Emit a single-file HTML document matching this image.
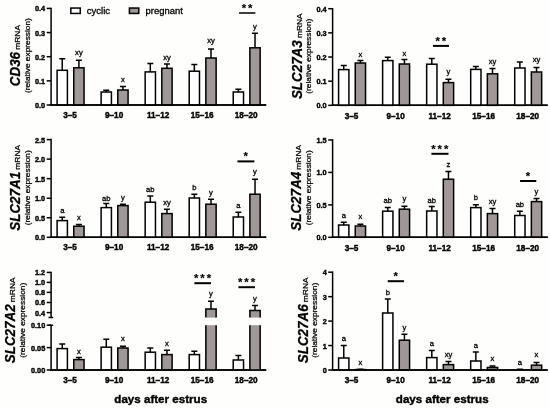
<!DOCTYPE html>
<html lang="en"><head><meta charset="utf-8"><title>Figure</title>
<style>html,body{margin:0;padding:0;background:#fefefd}svg{display:block;filter:blur(0.3px)}</style></head>
<body>
<svg width="550" height="408" viewBox="0 0 550 408" font-family='"Liberation Sans", sans-serif' fill="#000">
<rect width="550" height="408" fill="#fefefd"/>
<path d="M51.10 7.65V105.00" stroke="#000" stroke-width="1.5" fill="none"/>
<path d="M50.35 105.00H266.20" stroke="#000" stroke-width="1.5" fill="none"/>
<path d="M46.70 8.40H51.10" stroke="#000" stroke-width="1.5" fill="none"/>
<text x="45.20" y="11.35" font-size="7.3" font-weight="bold" font-style="normal" text-anchor="end" stroke="#000" stroke-width="0.4" >0.4</text>
<path d="M46.70 32.55H51.10" stroke="#000" stroke-width="1.5" fill="none"/>
<text x="45.20" y="35.50" font-size="7.3" font-weight="bold" font-style="normal" text-anchor="end" stroke="#000" stroke-width="0.4" >0.3</text>
<path d="M46.70 56.70H51.10" stroke="#000" stroke-width="1.5" fill="none"/>
<text x="45.20" y="59.65" font-size="7.3" font-weight="bold" font-style="normal" text-anchor="end" stroke="#000" stroke-width="0.4" >0.2</text>
<path d="M46.70 80.85H51.10" stroke="#000" stroke-width="1.5" fill="none"/>
<text x="45.20" y="83.80" font-size="7.3" font-weight="bold" font-style="normal" text-anchor="end" stroke="#000" stroke-width="0.4" >0.1</text>
<path d="M46.70 105.00H51.10" stroke="#000" stroke-width="1.5" fill="none"/>
<text x="45.20" y="107.95" font-size="7.3" font-weight="bold" font-style="normal" text-anchor="end" stroke="#000" stroke-width="0.4" >0.0</text>
<path d="M62.25 70.30V58.80M59.25 58.80H65.25" fill="none" stroke="#000" stroke-width="1.5"/>
<rect x="57.10" y="70.30" width="10.30" height="34.70" fill="#fff" stroke="#000" stroke-width="1.5"/>
<path d="M78.90 67.80V60.30M75.90 60.30H81.90" fill="none" stroke="#000" stroke-width="1.5"/>
<rect x="73.75" y="67.80" width="10.30" height="37.20" fill="#a09797" stroke="#000" stroke-width="1.5"/>
<text x="78.90" y="54.60" font-size="7.6" font-weight="normal" font-style="normal" text-anchor="middle" stroke="#000" stroke-width="0.3" >xy</text>
<text x="70.08" y="117.90" font-size="8.2" font-weight="bold" font-style="normal" text-anchor="middle" stroke="#000" stroke-width="0.4" >3–5</text>
<path d="M106.28 92.00V90.20M103.28 90.20H109.28" fill="none" stroke="#000" stroke-width="1.5"/>
<rect x="101.13" y="92.00" width="10.30" height="13.00" fill="#fff" stroke="#000" stroke-width="1.5"/>
<path d="M122.93 90.00V86.40M119.93 86.40H125.93" fill="none" stroke="#000" stroke-width="1.5"/>
<rect x="117.78" y="90.00" width="10.30" height="15.00" fill="#a09797" stroke="#000" stroke-width="1.5"/>
<text x="122.93" y="81.80" font-size="7.6" font-weight="normal" font-style="normal" text-anchor="middle" stroke="#000" stroke-width="0.3" >x</text>
<text x="114.11" y="117.90" font-size="8.2" font-weight="bold" font-style="normal" text-anchor="middle" stroke="#000" stroke-width="0.4" >9–10</text>
<path d="M150.31 71.90V63.60M147.31 63.60H153.31" fill="none" stroke="#000" stroke-width="1.5"/>
<rect x="145.16" y="71.90" width="10.30" height="33.10" fill="#fff" stroke="#000" stroke-width="1.5"/>
<path d="M166.96 68.30V64.10M163.96 64.10H169.96" fill="none" stroke="#000" stroke-width="1.5"/>
<rect x="161.81" y="68.30" width="10.30" height="36.70" fill="#a09797" stroke="#000" stroke-width="1.5"/>
<text x="166.96" y="59.50" font-size="7.6" font-weight="normal" font-style="normal" text-anchor="middle" stroke="#000" stroke-width="0.3" >xy</text>
<text x="158.14" y="117.90" font-size="8.2" font-weight="bold" font-style="normal" text-anchor="middle" stroke="#000" stroke-width="0.4" >11–12</text>
<path d="M194.34 71.20V64.60M191.34 64.60H197.34" fill="none" stroke="#000" stroke-width="1.5"/>
<rect x="189.19" y="71.20" width="10.30" height="33.80" fill="#fff" stroke="#000" stroke-width="1.5"/>
<path d="M210.99 58.00V49.00M207.99 49.00H213.99" fill="none" stroke="#000" stroke-width="1.5"/>
<rect x="205.84" y="58.00" width="10.30" height="47.00" fill="#a09797" stroke="#000" stroke-width="1.5"/>
<text x="210.99" y="43.40" font-size="7.6" font-weight="normal" font-style="normal" text-anchor="middle" stroke="#000" stroke-width="0.3" >xy</text>
<text x="202.16" y="117.90" font-size="8.2" font-weight="bold" font-style="normal" text-anchor="middle" stroke="#000" stroke-width="0.4" >15–16</text>
<path d="M238.37 92.00V89.20M235.37 89.20H241.37" fill="none" stroke="#000" stroke-width="1.5"/>
<rect x="233.22" y="92.00" width="10.30" height="13.00" fill="#fff" stroke="#000" stroke-width="1.5"/>
<path d="M255.02 47.80V33.20M252.02 33.20H258.02" fill="none" stroke="#000" stroke-width="1.5"/>
<rect x="249.87" y="47.80" width="10.30" height="57.20" fill="#a09797" stroke="#000" stroke-width="1.5"/>
<text x="255.02" y="28.60" font-size="7.6" font-weight="normal" font-style="normal" text-anchor="middle" stroke="#000" stroke-width="0.3" >y</text>
<text x="246.20" y="117.90" font-size="8.2" font-weight="bold" font-style="normal" text-anchor="middle" stroke="#000" stroke-width="0.4" >18–20</text>
<path d="M50.35 105.00H266.20" stroke="#000" stroke-width="1.5" fill="none"/>
<path d="M239.00 13.00H255.40" stroke="#000" stroke-width="1.5" fill="none"/>
<text x="248.00" y="11.90" font-size="11.3" font-weight="bold" font-style="normal" text-anchor="middle" stroke="#000" stroke-width="0.15" letter-spacing="1.9">**</text>
<text transform="translate(20.00 86.20) rotate(-90) scale(0.9 1)" text-anchor="start" font-size="14.9" font-weight="bold" font-style="italic" stroke="#000" stroke-width="0.3">CD36</text>
<text transform="translate(20.00 49.73) rotate(-90) scale(1.12 1)" text-anchor="start" font-size="7.5" stroke="#000" stroke-width="0.25">mRNA</text>
<text transform="translate(30.00 55.60) rotate(-90) scale(1.07 1)" text-anchor="middle" font-size="7.8" stroke="#000" stroke-width="0.25">(relative expression)</text>
<rect x="70.85" y="8.05" width="9.4" height="5.4" fill="#fff" stroke="#000" stroke-width="1.5"/>
<text x="86.70" y="14.20" font-size="9.6" font-weight="normal" font-style="normal" text-anchor="start" stroke="#000" stroke-width="0.3" >cyclic</text>
<rect x="129.4" y="8.05" width="9.4" height="5.4" fill="#a09797" stroke="#000" stroke-width="1.5"/>
<text x="145.50" y="14.20" font-size="9.45" font-weight="normal" font-style="normal" text-anchor="start" stroke="#000" stroke-width="0.3" >pregnant</text>
<path d="M51.10 138.85V237.30" stroke="#000" stroke-width="1.5" fill="none"/>
<path d="M50.35 237.30H266.20" stroke="#000" stroke-width="1.5" fill="none"/>
<path d="M46.70 139.60H51.10" stroke="#000" stroke-width="1.5" fill="none"/>
<text x="45.20" y="142.55" font-size="7.3" font-weight="bold" font-style="normal" text-anchor="end" stroke="#000" stroke-width="0.4" >2.5</text>
<path d="M46.70 159.14H51.10" stroke="#000" stroke-width="1.5" fill="none"/>
<text x="45.20" y="162.09" font-size="7.3" font-weight="bold" font-style="normal" text-anchor="end" stroke="#000" stroke-width="0.4" >2.0</text>
<path d="M46.70 178.68H51.10" stroke="#000" stroke-width="1.5" fill="none"/>
<text x="45.20" y="181.63" font-size="7.3" font-weight="bold" font-style="normal" text-anchor="end" stroke="#000" stroke-width="0.4" >1.5</text>
<path d="M46.70 198.22H51.10" stroke="#000" stroke-width="1.5" fill="none"/>
<text x="45.20" y="201.17" font-size="7.3" font-weight="bold" font-style="normal" text-anchor="end" stroke="#000" stroke-width="0.4" >1.0</text>
<path d="M46.70 217.76H51.10" stroke="#000" stroke-width="1.5" fill="none"/>
<text x="45.20" y="220.71" font-size="7.3" font-weight="bold" font-style="normal" text-anchor="end" stroke="#000" stroke-width="0.4" >0.5</text>
<path d="M46.70 237.30H51.10" stroke="#000" stroke-width="1.5" fill="none"/>
<text x="45.20" y="240.25" font-size="7.3" font-weight="bold" font-style="normal" text-anchor="end" stroke="#000" stroke-width="0.4" >0.0</text>
<path d="M62.25 220.60V217.20M59.25 217.20H65.25" fill="none" stroke="#000" stroke-width="1.5"/>
<rect x="57.10" y="220.60" width="10.30" height="16.70" fill="#fff" stroke="#000" stroke-width="1.5"/>
<path d="M78.90 226.20V224.60M75.90 224.60H81.90" fill="none" stroke="#000" stroke-width="1.5"/>
<rect x="73.75" y="226.20" width="10.30" height="11.10" fill="#a09797" stroke="#000" stroke-width="1.5"/>
<text x="62.25" y="213.30" font-size="7.6" font-weight="normal" font-style="normal" text-anchor="middle" stroke="#000" stroke-width="0.3" >a</text>
<text x="78.90" y="220.30" font-size="7.6" font-weight="normal" font-style="normal" text-anchor="middle" stroke="#000" stroke-width="0.3" >x</text>
<text x="70.08" y="250.20" font-size="8.2" font-weight="bold" font-style="normal" text-anchor="middle" stroke="#000" stroke-width="0.4" >3–5</text>
<path d="M106.28 207.60V203.60M103.28 203.60H109.28" fill="none" stroke="#000" stroke-width="1.5"/>
<rect x="101.13" y="207.60" width="10.30" height="29.70" fill="#fff" stroke="#000" stroke-width="1.5"/>
<path d="M122.93 205.60V204.20M119.93 204.20H125.93" fill="none" stroke="#000" stroke-width="1.5"/>
<rect x="117.78" y="205.60" width="10.30" height="31.70" fill="#a09797" stroke="#000" stroke-width="1.5"/>
<text x="106.28" y="200.60" font-size="7.6" font-weight="normal" font-style="normal" text-anchor="middle" stroke="#000" stroke-width="0.3" >ab</text>
<text x="122.93" y="200.30" font-size="7.6" font-weight="normal" font-style="normal" text-anchor="middle" stroke="#000" stroke-width="0.3" >y</text>
<text x="114.11" y="250.20" font-size="8.2" font-weight="bold" font-style="normal" text-anchor="middle" stroke="#000" stroke-width="0.4" >9–10</text>
<path d="M150.31 202.20V196.00M147.31 196.00H153.31" fill="none" stroke="#000" stroke-width="1.5"/>
<rect x="145.16" y="202.20" width="10.30" height="35.10" fill="#fff" stroke="#000" stroke-width="1.5"/>
<path d="M166.96 213.60V209.20M163.96 209.20H169.96" fill="none" stroke="#000" stroke-width="1.5"/>
<rect x="161.81" y="213.60" width="10.30" height="23.70" fill="#a09797" stroke="#000" stroke-width="1.5"/>
<text x="150.31" y="192.10" font-size="7.6" font-weight="normal" font-style="normal" text-anchor="middle" stroke="#000" stroke-width="0.3" >ab</text>
<text x="166.96" y="204.80" font-size="7.6" font-weight="normal" font-style="normal" text-anchor="middle" stroke="#000" stroke-width="0.3" >xy</text>
<text x="158.14" y="250.20" font-size="8.2" font-weight="bold" font-style="normal" text-anchor="middle" stroke="#000" stroke-width="0.4" >11–12</text>
<path d="M194.34 198.00V194.20M191.34 194.20H197.34" fill="none" stroke="#000" stroke-width="1.5"/>
<rect x="189.19" y="198.00" width="10.30" height="39.30" fill="#fff" stroke="#000" stroke-width="1.5"/>
<path d="M210.99 204.20V199.20M207.99 199.20H213.99" fill="none" stroke="#000" stroke-width="1.5"/>
<rect x="205.84" y="204.20" width="10.30" height="33.10" fill="#a09797" stroke="#000" stroke-width="1.5"/>
<text x="194.34" y="189.80" font-size="7.6" font-weight="normal" font-style="normal" text-anchor="middle" stroke="#000" stroke-width="0.3" >b</text>
<text x="210.99" y="194.90" font-size="7.6" font-weight="normal" font-style="normal" text-anchor="middle" stroke="#000" stroke-width="0.3" >y</text>
<text x="202.16" y="250.20" font-size="8.2" font-weight="bold" font-style="normal" text-anchor="middle" stroke="#000" stroke-width="0.4" >15–16</text>
<path d="M238.37 217.00V212.20M235.37 212.20H241.37" fill="none" stroke="#000" stroke-width="1.5"/>
<rect x="233.22" y="217.00" width="10.30" height="20.30" fill="#fff" stroke="#000" stroke-width="1.5"/>
<path d="M255.02 194.20V179.20M252.02 179.20H258.02" fill="none" stroke="#000" stroke-width="1.5"/>
<rect x="249.87" y="194.20" width="10.30" height="43.10" fill="#a09797" stroke="#000" stroke-width="1.5"/>
<text x="238.37" y="208.30" font-size="7.6" font-weight="normal" font-style="normal" text-anchor="middle" stroke="#000" stroke-width="0.3" >a</text>
<text x="255.02" y="174.30" font-size="7.6" font-weight="normal" font-style="normal" text-anchor="middle" stroke="#000" stroke-width="0.3" >y</text>
<text x="246.20" y="250.20" font-size="8.2" font-weight="bold" font-style="normal" text-anchor="middle" stroke="#000" stroke-width="0.4" >18–20</text>
<path d="M50.35 237.30H266.20" stroke="#000" stroke-width="1.5" fill="none"/>
<path d="M237.40 161.40H254.40" stroke="#000" stroke-width="2.0" fill="none"/>
<text x="246.70" y="159.95" font-size="11.3" font-weight="bold" font-style="normal" text-anchor="middle" stroke="#000" stroke-width="0.15" letter-spacing="1.9">*</text>
<text transform="translate(20.00 230.70) rotate(-90) scale(0.9 1)" text-anchor="start" font-size="14.9" font-weight="bold" font-style="italic" stroke="#000" stroke-width="0.3">SLC27A1</text>
<text transform="translate(20.00 169.63) rotate(-90) scale(1.12 1)" text-anchor="start" font-size="7.5" stroke="#000" stroke-width="0.25">mRNA</text>
<text transform="translate(30.00 187.80) rotate(-90) scale(1.07 1)" text-anchor="middle" font-size="7.8" stroke="#000" stroke-width="0.25">(relative expression)</text>
<path d="M51.10 271.65V317.60M48.50 317.60H53.20M51.10 325.20V370.00M48.50 325.20H53.20" stroke="#000" stroke-width="1.5" fill="none"/>
<path d="M50.35 370.00H266.20" stroke="#000" stroke-width="1.5" fill="none"/>
<path d="M46.70 272.40H51.10" stroke="#000" stroke-width="1.5" fill="none"/>
<text x="45.20" y="275.35" font-size="7.3" font-weight="bold" font-style="normal" text-anchor="end" stroke="#000" stroke-width="0.4" >1.2</text>
<path d="M46.70 282.40H51.10" stroke="#000" stroke-width="1.5" fill="none"/>
<text x="45.20" y="285.35" font-size="7.3" font-weight="bold" font-style="normal" text-anchor="end" stroke="#000" stroke-width="0.4" >1.0</text>
<path d="M46.70 292.40H51.10" stroke="#000" stroke-width="1.5" fill="none"/>
<text x="45.20" y="295.35" font-size="7.3" font-weight="bold" font-style="normal" text-anchor="end" stroke="#000" stroke-width="0.4" >0.8</text>
<path d="M46.70 302.50H51.10" stroke="#000" stroke-width="1.5" fill="none"/>
<text x="45.20" y="305.45" font-size="7.3" font-weight="bold" font-style="normal" text-anchor="end" stroke="#000" stroke-width="0.4" >0.6</text>
<path d="M46.70 312.60H51.10" stroke="#000" stroke-width="1.5" fill="none"/>
<text x="45.20" y="315.55" font-size="7.3" font-weight="bold" font-style="normal" text-anchor="end" stroke="#000" stroke-width="0.4" >0.4</text>
<path d="M46.70 325.20H51.10" stroke="#000" stroke-width="1.5" fill="none"/>
<text x="45.20" y="328.15" font-size="7.3" font-weight="bold" font-style="normal" text-anchor="end" stroke="#000" stroke-width="0.4" >0.10</text>
<path d="M46.70 347.60H51.10" stroke="#000" stroke-width="1.5" fill="none"/>
<text x="45.20" y="350.55" font-size="7.3" font-weight="bold" font-style="normal" text-anchor="end" stroke="#000" stroke-width="0.4" >0.05</text>
<path d="M46.70 370.00H51.10" stroke="#000" stroke-width="1.5" fill="none"/>
<text x="45.20" y="372.95" font-size="7.3" font-weight="bold" font-style="normal" text-anchor="end" stroke="#000" stroke-width="0.4" >0.00</text>
<path d="M62.25 348.60V344.00M59.25 344.00H65.25" fill="none" stroke="#000" stroke-width="1.5"/>
<rect x="57.10" y="348.60" width="10.30" height="21.40" fill="#fff" stroke="#000" stroke-width="1.5"/>
<path d="M78.90 359.60V357.60M75.90 357.60H81.90" fill="none" stroke="#000" stroke-width="1.5"/>
<rect x="73.75" y="359.60" width="10.30" height="10.40" fill="#a09797" stroke="#000" stroke-width="1.5"/>
<text x="78.90" y="353.70" font-size="7.6" font-weight="normal" font-style="normal" text-anchor="middle" stroke="#000" stroke-width="0.3" >x</text>
<text x="70.08" y="383.20" font-size="8.2" font-weight="bold" font-style="normal" text-anchor="middle" stroke="#000" stroke-width="0.4" >3–5</text>
<path d="M106.28 347.20V339.20M103.28 339.20H109.28" fill="none" stroke="#000" stroke-width="1.5"/>
<rect x="101.13" y="347.20" width="10.30" height="22.80" fill="#fff" stroke="#000" stroke-width="1.5"/>
<path d="M122.93 348.00V346.20M119.93 346.20H125.93" fill="none" stroke="#000" stroke-width="1.5"/>
<rect x="117.78" y="348.00" width="10.30" height="22.00" fill="#a09797" stroke="#000" stroke-width="1.5"/>
<text x="122.93" y="341.30" font-size="7.6" font-weight="normal" font-style="normal" text-anchor="middle" stroke="#000" stroke-width="0.3" >x</text>
<text x="114.11" y="383.20" font-size="8.2" font-weight="bold" font-style="normal" text-anchor="middle" stroke="#000" stroke-width="0.4" >9–10</text>
<path d="M150.31 352.20V348.00M147.31 348.00H153.31" fill="none" stroke="#000" stroke-width="1.5"/>
<rect x="145.16" y="352.20" width="10.30" height="17.80" fill="#fff" stroke="#000" stroke-width="1.5"/>
<path d="M166.96 354.60V350.20M163.96 350.20H169.96" fill="none" stroke="#000" stroke-width="1.5"/>
<rect x="161.81" y="354.60" width="10.30" height="15.40" fill="#a09797" stroke="#000" stroke-width="1.5"/>
<text x="166.96" y="346.30" font-size="7.6" font-weight="normal" font-style="normal" text-anchor="middle" stroke="#000" stroke-width="0.3" >x</text>
<text x="158.14" y="383.20" font-size="8.2" font-weight="bold" font-style="normal" text-anchor="middle" stroke="#000" stroke-width="0.4" >11–12</text>
<path d="M194.34 354.60V351.20M191.34 351.20H197.34" fill="none" stroke="#000" stroke-width="1.5"/>
<rect x="189.19" y="354.60" width="10.30" height="15.40" fill="#fff" stroke="#000" stroke-width="1.5"/>
<path d="M210.99 309.00V301.20M207.99 301.20H213.99" fill="none" stroke="#000" stroke-width="1.5"/>
<rect x="205.84" y="309.00" width="10.30" height="8.60" fill="#a09797" stroke="none"/>
<path d="M205.84 317.60V309.00H216.14V317.60" fill="none" stroke="#000" stroke-width="1.5"/>
<rect x="205.84" y="325.20" width="10.30" height="44.80" fill="#a09797" stroke="none"/>
<path d="M205.84 325.20V370.00M216.14 325.20V370.00" fill="none" stroke="#000" stroke-width="1.5"/>
<text x="210.99" y="295.80" font-size="7.6" font-weight="normal" font-style="normal" text-anchor="middle" stroke="#000" stroke-width="0.3" >y</text>
<text x="202.16" y="383.20" font-size="8.2" font-weight="bold" font-style="normal" text-anchor="middle" stroke="#000" stroke-width="0.4" >15–16</text>
<path d="M238.37 360.00V355.60M235.37 355.60H241.37" fill="none" stroke="#000" stroke-width="1.5"/>
<rect x="233.22" y="360.00" width="10.30" height="10.00" fill="#fff" stroke="#000" stroke-width="1.5"/>
<path d="M255.02 310.60V305.60M252.02 305.60H258.02" fill="none" stroke="#000" stroke-width="1.5"/>
<rect x="249.87" y="310.60" width="10.30" height="7.00" fill="#a09797" stroke="none"/>
<path d="M249.87 317.60V310.60H260.17V317.60" fill="none" stroke="#000" stroke-width="1.5"/>
<rect x="249.87" y="325.20" width="10.30" height="44.80" fill="#a09797" stroke="none"/>
<path d="M249.87 325.20V370.00M260.17 325.20V370.00" fill="none" stroke="#000" stroke-width="1.5"/>
<text x="255.02" y="300.90" font-size="7.6" font-weight="normal" font-style="normal" text-anchor="middle" stroke="#000" stroke-width="0.3" >y</text>
<text x="246.20" y="383.20" font-size="8.2" font-weight="bold" font-style="normal" text-anchor="middle" stroke="#000" stroke-width="0.4" >18–20</text>
<path d="M50.35 370.00H266.20" stroke="#000" stroke-width="1.5" fill="none"/>
<path d="M194.40 283.20H211.00" stroke="#000" stroke-width="2.0" fill="none"/>
<text x="203.50" y="281.85" font-size="11.3" font-weight="bold" font-style="normal" text-anchor="middle" stroke="#000" stroke-width="0.15" letter-spacing="1.9">***</text>
<path d="M238.40 287.20H255.00" stroke="#000" stroke-width="2.0" fill="none"/>
<text x="247.50" y="286.05" font-size="11.3" font-weight="bold" font-style="normal" text-anchor="middle" stroke="#000" stroke-width="0.15" letter-spacing="1.9">***</text>
<text transform="translate(14.90 363.20) rotate(-90) scale(0.9 1)" text-anchor="start" font-size="14.9" font-weight="bold" font-style="italic" stroke="#000" stroke-width="0.3">SLC27A2</text>
<text transform="translate(14.90 302.13) rotate(-90) scale(1.12 1)" text-anchor="start" font-size="7.5" stroke="#000" stroke-width="0.25">mRNA</text>
<text transform="translate(24.90 320.30) rotate(-90) scale(1.07 1)" text-anchor="middle" font-size="7.8" stroke="#000" stroke-width="0.25">(relative expression)</text>
<path d="M332.60 7.95V105.35" stroke="#000" stroke-width="1.5" fill="none"/>
<path d="M331.85 105.35H547.70" stroke="#000" stroke-width="1.5" fill="none"/>
<path d="M328.20 8.70H332.60" stroke="#000" stroke-width="1.5" fill="none"/>
<text x="326.70" y="11.65" font-size="7.3" font-weight="bold" font-style="normal" text-anchor="end" stroke="#000" stroke-width="0.4" >0.4</text>
<path d="M328.20 32.86H332.60" stroke="#000" stroke-width="1.5" fill="none"/>
<text x="326.70" y="35.81" font-size="7.3" font-weight="bold" font-style="normal" text-anchor="end" stroke="#000" stroke-width="0.4" >0.3</text>
<path d="M328.20 57.02H332.60" stroke="#000" stroke-width="1.5" fill="none"/>
<text x="326.70" y="59.97" font-size="7.3" font-weight="bold" font-style="normal" text-anchor="end" stroke="#000" stroke-width="0.4" >0.2</text>
<path d="M328.20 81.19H332.60" stroke="#000" stroke-width="1.5" fill="none"/>
<text x="326.70" y="84.14" font-size="7.3" font-weight="bold" font-style="normal" text-anchor="end" stroke="#000" stroke-width="0.4" >0.1</text>
<path d="M328.20 105.35H332.60" stroke="#000" stroke-width="1.5" fill="none"/>
<text x="326.70" y="108.30" font-size="7.3" font-weight="bold" font-style="normal" text-anchor="end" stroke="#000" stroke-width="0.4" >0.0</text>
<path d="M343.75 69.60V65.60M340.75 65.60H346.75" fill="none" stroke="#000" stroke-width="1.5"/>
<rect x="338.60" y="69.60" width="10.30" height="35.75" fill="#fff" stroke="#000" stroke-width="1.5"/>
<path d="M360.40 63.00V60.60M357.40 60.60H363.40" fill="none" stroke="#000" stroke-width="1.5"/>
<rect x="355.25" y="63.00" width="10.30" height="42.35" fill="#a09797" stroke="#000" stroke-width="1.5"/>
<text x="360.40" y="56.70" font-size="7.6" font-weight="normal" font-style="normal" text-anchor="middle" stroke="#000" stroke-width="0.3" >x</text>
<text x="351.57" y="118.85" font-size="8.2" font-weight="bold" font-style="normal" text-anchor="middle" stroke="#000" stroke-width="0.4" >3–5</text>
<path d="M387.78 60.60V57.20M384.78 57.20H390.78" fill="none" stroke="#000" stroke-width="1.5"/>
<rect x="382.63" y="60.60" width="10.30" height="44.75" fill="#fff" stroke="#000" stroke-width="1.5"/>
<path d="M404.43 64.00V59.60M401.43 59.60H407.43" fill="none" stroke="#000" stroke-width="1.5"/>
<rect x="399.28" y="64.00" width="10.30" height="41.35" fill="#a09797" stroke="#000" stroke-width="1.5"/>
<text x="404.43" y="55.90" font-size="7.6" font-weight="normal" font-style="normal" text-anchor="middle" stroke="#000" stroke-width="0.3" >x</text>
<text x="395.60" y="118.85" font-size="8.2" font-weight="bold" font-style="normal" text-anchor="middle" stroke="#000" stroke-width="0.4" >9–10</text>
<path d="M431.81 64.20V58.60M428.81 58.60H434.81" fill="none" stroke="#000" stroke-width="1.5"/>
<rect x="426.66" y="64.20" width="10.30" height="41.15" fill="#fff" stroke="#000" stroke-width="1.5"/>
<path d="M448.46 82.60V79.20M445.46 79.20H451.46" fill="none" stroke="#000" stroke-width="1.5"/>
<rect x="443.31" y="82.60" width="10.30" height="22.75" fill="#a09797" stroke="#000" stroke-width="1.5"/>
<text x="448.46" y="74.00" font-size="7.6" font-weight="normal" font-style="normal" text-anchor="middle" stroke="#000" stroke-width="0.3" >y</text>
<text x="439.63" y="118.85" font-size="8.2" font-weight="bold" font-style="normal" text-anchor="middle" stroke="#000" stroke-width="0.4" >11–12</text>
<path d="M475.84 69.40V66.40M472.84 66.40H478.84" fill="none" stroke="#000" stroke-width="1.5"/>
<rect x="470.69" y="69.40" width="10.30" height="35.95" fill="#fff" stroke="#000" stroke-width="1.5"/>
<path d="M492.49 73.80V68.40M489.49 68.40H495.49" fill="none" stroke="#000" stroke-width="1.5"/>
<rect x="487.34" y="73.80" width="10.30" height="31.55" fill="#a09797" stroke="#000" stroke-width="1.5"/>
<text x="492.49" y="63.90" font-size="7.6" font-weight="normal" font-style="normal" text-anchor="middle" stroke="#000" stroke-width="0.3" >xy</text>
<text x="483.67" y="118.85" font-size="8.2" font-weight="bold" font-style="normal" text-anchor="middle" stroke="#000" stroke-width="0.4" >15–16</text>
<path d="M519.87 68.00V61.90M516.87 61.90H522.87" fill="none" stroke="#000" stroke-width="1.5"/>
<rect x="514.72" y="68.00" width="10.30" height="37.35" fill="#fff" stroke="#000" stroke-width="1.5"/>
<path d="M536.52 72.00V67.60M533.52 67.60H539.52" fill="none" stroke="#000" stroke-width="1.5"/>
<rect x="531.37" y="72.00" width="10.30" height="33.35" fill="#a09797" stroke="#000" stroke-width="1.5"/>
<text x="536.52" y="62.30" font-size="7.6" font-weight="normal" font-style="normal" text-anchor="middle" stroke="#000" stroke-width="0.3" >xy</text>
<text x="527.70" y="118.85" font-size="8.2" font-weight="bold" font-style="normal" text-anchor="middle" stroke="#000" stroke-width="0.4" >18–20</text>
<path d="M331.85 105.35H547.70" stroke="#000" stroke-width="1.5" fill="none"/>
<path d="M433.00 45.90H449.00" stroke="#000" stroke-width="2.0" fill="none"/>
<text x="441.80" y="44.65" font-size="11.3" font-weight="bold" font-style="normal" text-anchor="middle" stroke="#000" stroke-width="0.15" letter-spacing="1.9">**</text>
<text transform="translate(302.10 99.10) rotate(-90) scale(0.9 1)" text-anchor="start" font-size="14.9" font-weight="bold" font-style="italic" stroke="#000" stroke-width="0.3">SLC27A3</text>
<text transform="translate(302.10 38.03) rotate(-90) scale(1.12 1)" text-anchor="start" font-size="7.5" stroke="#000" stroke-width="0.25">mRNA</text>
<text transform="translate(311.10 56.20) rotate(-90) scale(1.07 1)" text-anchor="middle" font-size="7.8" stroke="#000" stroke-width="0.25">(relative expression)</text>
<path d="M332.60 139.25V237.30" stroke="#000" stroke-width="1.5" fill="none"/>
<path d="M331.85 237.30H547.70" stroke="#000" stroke-width="1.5" fill="none"/>
<path d="M328.20 140.00H332.60" stroke="#000" stroke-width="1.5" fill="none"/>
<text x="326.70" y="142.95" font-size="7.3" font-weight="bold" font-style="normal" text-anchor="end" stroke="#000" stroke-width="0.4" >1.5</text>
<path d="M328.20 172.43H332.60" stroke="#000" stroke-width="1.5" fill="none"/>
<text x="326.70" y="175.38" font-size="7.3" font-weight="bold" font-style="normal" text-anchor="end" stroke="#000" stroke-width="0.4" >1.0</text>
<path d="M328.20 204.87H332.60" stroke="#000" stroke-width="1.5" fill="none"/>
<text x="326.70" y="207.82" font-size="7.3" font-weight="bold" font-style="normal" text-anchor="end" stroke="#000" stroke-width="0.4" >0.5</text>
<path d="M328.20 237.30H332.60" stroke="#000" stroke-width="1.5" fill="none"/>
<text x="326.70" y="240.25" font-size="7.3" font-weight="bold" font-style="normal" text-anchor="end" stroke="#000" stroke-width="0.4" >0.0</text>
<path d="M343.75 225.00V222.20M340.75 222.20H346.75" fill="none" stroke="#000" stroke-width="1.5"/>
<rect x="338.60" y="225.00" width="10.30" height="12.30" fill="#fff" stroke="#000" stroke-width="1.5"/>
<path d="M360.40 226.00V224.20M357.40 224.20H363.40" fill="none" stroke="#000" stroke-width="1.5"/>
<rect x="355.25" y="226.00" width="10.30" height="11.30" fill="#a09797" stroke="#000" stroke-width="1.5"/>
<text x="343.75" y="217.80" font-size="7.6" font-weight="normal" font-style="normal" text-anchor="middle" stroke="#000" stroke-width="0.3" >a</text>
<text x="360.40" y="218.80" font-size="7.6" font-weight="normal" font-style="normal" text-anchor="middle" stroke="#000" stroke-width="0.3" >x</text>
<text x="351.57" y="250.60" font-size="8.2" font-weight="bold" font-style="normal" text-anchor="middle" stroke="#000" stroke-width="0.4" >3–5</text>
<path d="M387.78 211.20V207.60M384.78 207.60H390.78" fill="none" stroke="#000" stroke-width="1.5"/>
<rect x="382.63" y="211.20" width="10.30" height="26.10" fill="#fff" stroke="#000" stroke-width="1.5"/>
<path d="M404.43 209.20V206.20M401.43 206.20H407.43" fill="none" stroke="#000" stroke-width="1.5"/>
<rect x="399.28" y="209.20" width="10.30" height="28.10" fill="#a09797" stroke="#000" stroke-width="1.5"/>
<text x="387.78" y="202.50" font-size="7.6" font-weight="normal" font-style="normal" text-anchor="middle" stroke="#000" stroke-width="0.3" >ab</text>
<text x="404.43" y="201.30" font-size="7.6" font-weight="normal" font-style="normal" text-anchor="middle" stroke="#000" stroke-width="0.3" >y</text>
<text x="395.60" y="250.60" font-size="8.2" font-weight="bold" font-style="normal" text-anchor="middle" stroke="#000" stroke-width="0.4" >9–10</text>
<path d="M431.81 211.00V206.60M428.81 206.60H434.81" fill="none" stroke="#000" stroke-width="1.5"/>
<rect x="426.66" y="211.00" width="10.30" height="26.30" fill="#fff" stroke="#000" stroke-width="1.5"/>
<path d="M448.46 179.20V171.60M445.46 171.60H451.46" fill="none" stroke="#000" stroke-width="1.5"/>
<rect x="443.31" y="179.20" width="10.30" height="58.10" fill="#a09797" stroke="#000" stroke-width="1.5"/>
<text x="431.81" y="202.50" font-size="7.6" font-weight="normal" font-style="normal" text-anchor="middle" stroke="#000" stroke-width="0.3" >ab</text>
<text x="448.46" y="166.80" font-size="7.6" font-weight="normal" font-style="normal" text-anchor="middle" stroke="#000" stroke-width="0.3" >z</text>
<text x="439.63" y="250.60" font-size="8.2" font-weight="bold" font-style="normal" text-anchor="middle" stroke="#000" stroke-width="0.4" >11–12</text>
<path d="M475.84 207.60V204.80M472.84 204.80H478.84" fill="none" stroke="#000" stroke-width="1.5"/>
<rect x="470.69" y="207.60" width="10.30" height="29.70" fill="#fff" stroke="#000" stroke-width="1.5"/>
<path d="M492.49 213.60V208.60M489.49 208.60H495.49" fill="none" stroke="#000" stroke-width="1.5"/>
<rect x="487.34" y="213.60" width="10.30" height="23.70" fill="#a09797" stroke="#000" stroke-width="1.5"/>
<text x="475.84" y="200.30" font-size="7.6" font-weight="normal" font-style="normal" text-anchor="middle" stroke="#000" stroke-width="0.3" >b</text>
<text x="492.49" y="203.60" font-size="7.6" font-weight="normal" font-style="normal" text-anchor="middle" stroke="#000" stroke-width="0.3" >xy</text>
<text x="483.67" y="250.60" font-size="8.2" font-weight="bold" font-style="normal" text-anchor="middle" stroke="#000" stroke-width="0.4" >15–16</text>
<path d="M519.87 215.50V211.30M516.87 211.30H522.87" fill="none" stroke="#000" stroke-width="1.5"/>
<rect x="514.72" y="215.50" width="10.30" height="21.80" fill="#fff" stroke="#000" stroke-width="1.5"/>
<path d="M536.52 201.60V198.60M533.52 198.60H539.52" fill="none" stroke="#000" stroke-width="1.5"/>
<rect x="531.37" y="201.60" width="10.30" height="35.70" fill="#a09797" stroke="#000" stroke-width="1.5"/>
<text x="519.87" y="207.00" font-size="7.6" font-weight="normal" font-style="normal" text-anchor="middle" stroke="#000" stroke-width="0.3" >ab</text>
<text x="536.52" y="193.80" font-size="7.6" font-weight="normal" font-style="normal" text-anchor="middle" stroke="#000" stroke-width="0.3" >y</text>
<text x="527.70" y="250.60" font-size="8.2" font-weight="bold" font-style="normal" text-anchor="middle" stroke="#000" stroke-width="0.4" >18–20</text>
<path d="M331.85 237.30H547.70" stroke="#000" stroke-width="1.5" fill="none"/>
<path d="M431.40 153.80H448.50" stroke="#000" stroke-width="2.0" fill="none"/>
<text x="440.75" y="152.65" font-size="11.3" font-weight="bold" font-style="normal" text-anchor="middle" stroke="#000" stroke-width="0.15" letter-spacing="1.9">***</text>
<path d="M520.10 181.00H536.30" stroke="#000" stroke-width="2.0" fill="none"/>
<text x="529.00" y="179.65" font-size="11.3" font-weight="bold" font-style="normal" text-anchor="middle" stroke="#000" stroke-width="0.15" letter-spacing="1.9">*</text>
<text transform="translate(301.40 230.70) rotate(-90) scale(0.9 1)" text-anchor="start" font-size="14.9" font-weight="bold" font-style="italic" stroke="#000" stroke-width="0.3">SLC27A4</text>
<text transform="translate(301.40 169.63) rotate(-90) scale(1.12 1)" text-anchor="start" font-size="7.5" stroke="#000" stroke-width="0.25">mRNA</text>
<text transform="translate(310.60 187.80) rotate(-90) scale(1.07 1)" text-anchor="middle" font-size="7.8" stroke="#000" stroke-width="0.25">(relative expression)</text>
<path d="M332.60 271.45V370.00" stroke="#000" stroke-width="1.5" fill="none"/>
<path d="M331.85 370.00H547.70" stroke="#000" stroke-width="1.5" fill="none"/>
<path d="M328.20 272.20H332.60" stroke="#000" stroke-width="1.5" fill="none"/>
<text x="326.70" y="275.15" font-size="7.3" font-weight="bold" font-style="normal" text-anchor="end" stroke="#000" stroke-width="0.4" >4</text>
<path d="M328.20 296.65H332.60" stroke="#000" stroke-width="1.5" fill="none"/>
<text x="326.70" y="299.60" font-size="7.3" font-weight="bold" font-style="normal" text-anchor="end" stroke="#000" stroke-width="0.4" >3</text>
<path d="M328.20 321.10H332.60" stroke="#000" stroke-width="1.5" fill="none"/>
<text x="326.70" y="324.05" font-size="7.3" font-weight="bold" font-style="normal" text-anchor="end" stroke="#000" stroke-width="0.4" >2</text>
<path d="M328.20 345.55H332.60" stroke="#000" stroke-width="1.5" fill="none"/>
<text x="326.70" y="348.50" font-size="7.3" font-weight="bold" font-style="normal" text-anchor="end" stroke="#000" stroke-width="0.4" >1</text>
<path d="M328.20 370.00H332.60" stroke="#000" stroke-width="1.5" fill="none"/>
<text x="326.70" y="372.95" font-size="7.3" font-weight="bold" font-style="normal" text-anchor="end" stroke="#000" stroke-width="0.4" >0</text>
<path d="M343.75 358.00V345.60M340.75 345.60H346.75" fill="none" stroke="#000" stroke-width="1.5"/>
<rect x="338.60" y="358.00" width="10.30" height="12.00" fill="#fff" stroke="#000" stroke-width="1.5"/>
<path d="M360.40 369.60V369.20M357.40 369.20H363.40" fill="none" stroke="#000" stroke-width="1.5"/>
<rect x="355.25" y="369.60" width="10.30" height="0.40" fill="#a09797" stroke="#000" stroke-width="1.5"/>
<text x="343.75" y="340.90" font-size="7.6" font-weight="normal" font-style="normal" text-anchor="middle" stroke="#000" stroke-width="0.3" >a</text>
<text x="360.40" y="364.90" font-size="7.6" font-weight="normal" font-style="normal" text-anchor="middle" stroke="#000" stroke-width="0.3" >x</text>
<text x="351.57" y="383.20" font-size="8.2" font-weight="bold" font-style="normal" text-anchor="middle" stroke="#000" stroke-width="0.4" >3–5</text>
<path d="M387.78 313.00V299.00M384.78 299.00H390.78" fill="none" stroke="#000" stroke-width="1.5"/>
<rect x="382.63" y="313.00" width="10.30" height="57.00" fill="#fff" stroke="#000" stroke-width="1.5"/>
<path d="M404.43 340.20V334.20M401.43 334.20H407.43" fill="none" stroke="#000" stroke-width="1.5"/>
<rect x="399.28" y="340.20" width="10.30" height="29.80" fill="#a09797" stroke="#000" stroke-width="1.5"/>
<text x="387.78" y="295.00" font-size="7.6" font-weight="normal" font-style="normal" text-anchor="middle" stroke="#000" stroke-width="0.3" >b</text>
<text x="404.43" y="330.10" font-size="7.6" font-weight="normal" font-style="normal" text-anchor="middle" stroke="#000" stroke-width="0.3" >y</text>
<text x="395.60" y="383.20" font-size="8.2" font-weight="bold" font-style="normal" text-anchor="middle" stroke="#000" stroke-width="0.4" >9–10</text>
<path d="M431.81 357.60V350.60M428.81 350.60H434.81" fill="none" stroke="#000" stroke-width="1.5"/>
<rect x="426.66" y="357.60" width="10.30" height="12.40" fill="#fff" stroke="#000" stroke-width="1.5"/>
<path d="M448.46 364.60V361.60M445.46 361.60H451.46" fill="none" stroke="#000" stroke-width="1.5"/>
<rect x="443.31" y="364.60" width="10.30" height="5.40" fill="#a09797" stroke="#000" stroke-width="1.5"/>
<text x="431.81" y="345.50" font-size="7.6" font-weight="normal" font-style="normal" text-anchor="middle" stroke="#000" stroke-width="0.3" >a</text>
<text x="448.46" y="356.90" font-size="7.6" font-weight="normal" font-style="normal" text-anchor="middle" stroke="#000" stroke-width="0.3" >xy</text>
<text x="439.63" y="383.20" font-size="8.2" font-weight="bold" font-style="normal" text-anchor="middle" stroke="#000" stroke-width="0.4" >11–12</text>
<path d="M475.84 361.00V352.10M472.84 352.10H478.84" fill="none" stroke="#000" stroke-width="1.5"/>
<rect x="470.69" y="361.00" width="10.30" height="9.00" fill="#fff" stroke="#000" stroke-width="1.5"/>
<path d="M492.49 367.50V365.90M489.49 365.90H495.49" fill="none" stroke="#000" stroke-width="1.5"/>
<rect x="487.34" y="367.50" width="10.30" height="2.50" fill="#a09797" stroke="#000" stroke-width="1.5"/>
<text x="475.84" y="347.90" font-size="7.6" font-weight="normal" font-style="normal" text-anchor="middle" stroke="#000" stroke-width="0.3" >a</text>
<text x="492.49" y="361.30" font-size="7.6" font-weight="normal" font-style="normal" text-anchor="middle" stroke="#000" stroke-width="0.3" >x</text>
<text x="483.67" y="383.20" font-size="8.2" font-weight="bold" font-style="normal" text-anchor="middle" stroke="#000" stroke-width="0.4" >15–16</text>
<path d="M519.87 370.20V369.20M516.87 369.20H522.87" fill="none" stroke="#000" stroke-width="1.5"/>
<rect x="514.72" y="370.20" width="10.30" height="-0.20" fill="#fff" stroke="#000" stroke-width="1.5"/>
<path d="M536.52 365.20V362.60M533.52 362.60H539.52" fill="none" stroke="#000" stroke-width="1.5"/>
<rect x="531.37" y="365.20" width="10.30" height="4.80" fill="#a09797" stroke="#000" stroke-width="1.5"/>
<text x="519.87" y="364.60" font-size="7.6" font-weight="normal" font-style="normal" text-anchor="middle" stroke="#000" stroke-width="0.3" >a</text>
<text x="536.52" y="357.30" font-size="7.6" font-weight="normal" font-style="normal" text-anchor="middle" stroke="#000" stroke-width="0.3" >x</text>
<text x="527.70" y="383.20" font-size="8.2" font-weight="bold" font-style="normal" text-anchor="middle" stroke="#000" stroke-width="0.4" >18–20</text>
<path d="M331.85 370.00H547.70" stroke="#000" stroke-width="1.5" fill="none"/>
<path d="M387.70 281.20H404.00" stroke="#000" stroke-width="2.0" fill="none"/>
<text x="396.65" y="279.95" font-size="11.3" font-weight="bold" font-style="normal" text-anchor="middle" stroke="#000" stroke-width="0.15" letter-spacing="1.9">*</text>
<text transform="translate(307.70 363.20) rotate(-90) scale(0.9 1)" text-anchor="start" font-size="14.9" font-weight="bold" font-style="italic" stroke="#000" stroke-width="0.3">SLC27A6</text>
<text transform="translate(307.70 302.13) rotate(-90) scale(1.12 1)" text-anchor="start" font-size="7.5" stroke="#000" stroke-width="0.25">mRNA</text>
<text transform="translate(316.70 320.30) rotate(-90) scale(1.07 1)" text-anchor="middle" font-size="7.8" stroke="#000" stroke-width="0.25">(relative expression)</text>
<text x="160.70" y="403.20" font-size="11.6" font-weight="bold" font-style="normal" text-anchor="middle" stroke="#000" stroke-width="0.4" >days after estrus</text>
<text x="442.20" y="403.20" font-size="11.6" font-weight="bold" font-style="normal" text-anchor="middle" stroke="#000" stroke-width="0.4" >days after estrus</text>
</svg>
</body></html>
